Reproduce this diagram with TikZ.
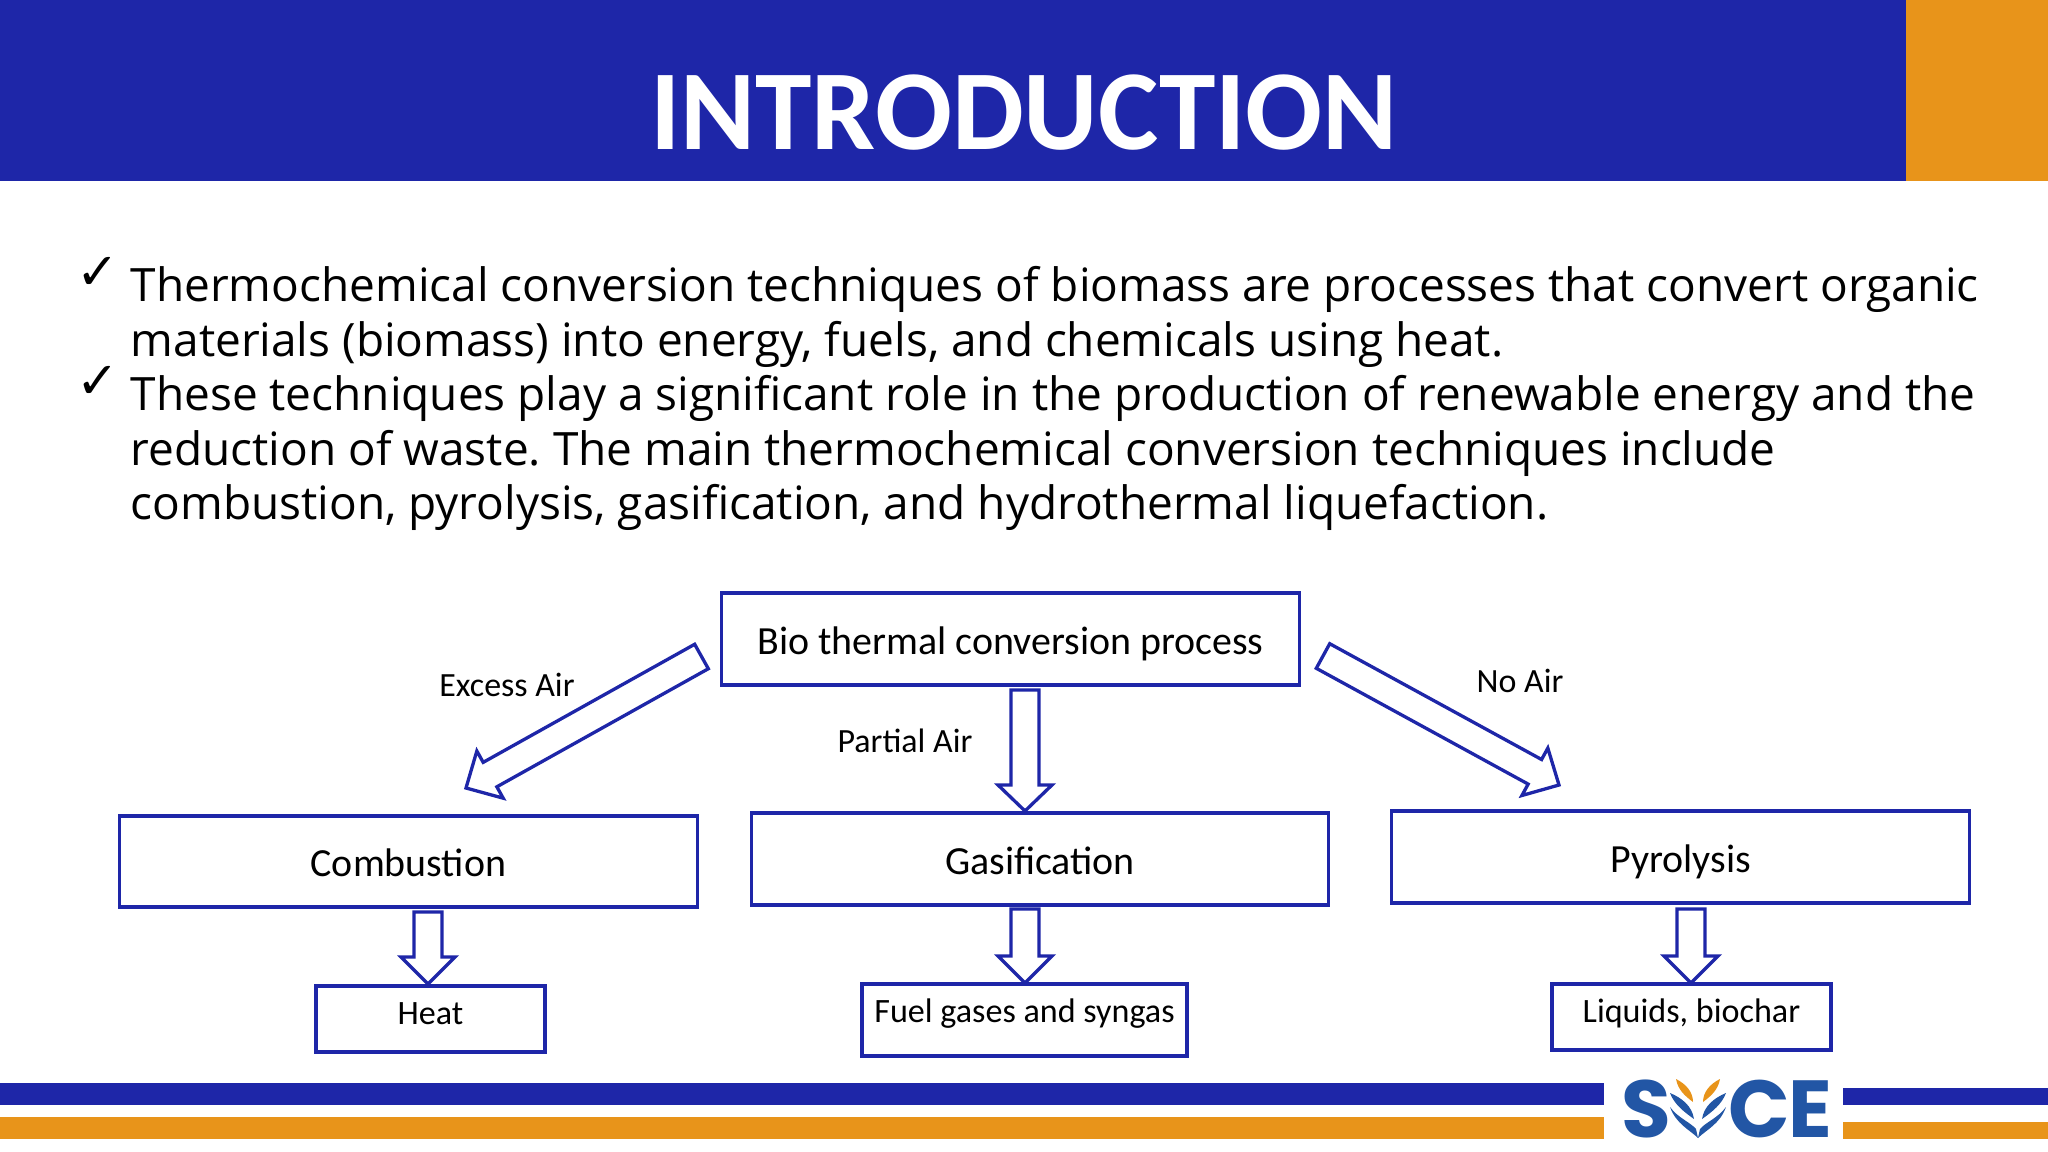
\documentclass[tikz,border=0pt]{standalone}
\usepackage{fontspec}
\setmainfont{Carlito}
\newfontfamily\bodyfont{Open Sans}
\newfontfamily\tickfont{DejaVu Sans}
\newfontfamily\logofont{Poppins}
\usetikzlibrary{calc,positioning}
\definecolor{barblue}{HTML}{1E26A8}
\definecolor{barorange}{HTML}{E8941A}
\definecolor{logoblue}{HTML}{2256A5}
\newcommand{\blockar}[3]{
  \coordinate (n) at ($(#2)!#3!(#1)$);
  \draw[hollow] ($(#1)!1.4mm!90:(#2)$) -- ($(n)!1.4mm!90:(#2)$) -- ($(n)!2.7mm!90:(#2)$) -- (#2)
    -- ($(n)!2.7mm!-90:(#2)$) -- ($(n)!1.4mm!-90:(#2)$) -- ($(#1)!1.4mm!-90:(#2)$) -- cycle;
}
\tikzset{
  bar/.style={fill=#1, draw=none},
  box/.style={draw=barblue, fill=white, line width=.33mm, inner sep=0pt, align=center,
              font=\fontsize{11.35}{13}\selectfont, text height=3.2mm, text depth=.2mm},
  smallbox/.style={box, font=\fontsize{9.7}{11}\selectfont, text height=2.4mm, text depth=1.4mm},
  hollow/.style={draw=barblue, fill=white, line width=.33mm, line join=miter},
  lbl/.style={font=\fontsize{9.65}{11}\selectfont, inner sep=0pt},
  para/.style={anchor=north west, inner sep=0pt, align=left,
               font=\bodyfont\frenchspacing\fontsize{13.07}{15.5}\selectfont},
  tick/.style={inner sep=0pt, font=\tickfont\fontsize{14.5}{15}\selectfont},
  logo/.style={inner sep=0pt, text=logoblue, font=\logofont\bfseries\fontsize{23}{24}\selectfont}
}
\begin{document}
\begin{tikzpicture}[x=0.01cm,y=-0.01cm]
  \useasboundingbox (0,0) rectangle (2048,1152);

  % header
  \fill[bar=barblue] (0,0) rectangle (1906,181);
  \fill[bar=barorange] (1906,0) rectangle (2048,181);
  \node[text=white, inner sep=0pt, font=\bfseries\fontsize{32.4}{36}\selectfont] (title) at (1024,113) {INTRODUCTION};

  % text
  \node[tick] (tick1) at (98,273) {✓};
  \node[tick] (tick2) at (98,382) {✓};
  \node[para] (para1) at (130,266) {Thermochemical conversion techniques of biomass are processes that convert organic\\materials (biomass) into energy, fuels, and chemicals using heat.};
  \node[para] (para2) at (130,375) {These techniques play a significant role in the production of renewable energy and the\\reduction of waste. The main thermochemical conversion techniques include\\combustion, pyrolysis, gasification, and hydrothermal liquefaction.};

  % boxes
  \node[box, minimum width=57.7mm, minimum height=9.2mm] (bio) at (1010.5,639) {Bio thermal conversion process};
  \node[box, minimum width=57.7mm, minimum height=9.1mm] (comb) at (408.5,861.5) {Combustion};
  \node[box, minimum width=57.7mm, minimum height=9.2mm] (gas) at (1040,859) {Gasification};
  \node[box, minimum width=57.7mm, minimum height=9.2mm] (pyro) at (1680.5,857) {Pyrolysis};
  \node[smallbox, minimum width=22.9mm, minimum height=6.6mm] (heat) at (430.5,1019) {Heat};
  \node[smallbox, minimum width=32.5mm, minimum height=7.2mm, text depth=2mm] (fuel) at (1024.5,1020) {Fuel gases and syngas};
  \node[smallbox, minimum width=27.9mm, minimum height=6.6mm] (liq) at (1691.5,1017) {Liquids, biochar};

  \node[lbl] (excess) at (507,685) {Excess Air};
  \node[lbl] (partial) at (905,741) {Partial Air};
  \node[lbl] (noair) at (1520,681) {No Air};

  % block arrows
  \coordinate (a1) at (701.5,656.5); \coordinate (a2) at (466,788);
  \coordinate (b1) at (1025,690);    \coordinate (b2) at (1025,811);
  \coordinate (c1) at (1323,656);    \coordinate (c2) at (1559,785);
  \coordinate (d1) at (428,912);     \coordinate (d2) at (428,984);
  \coordinate (e1) at (1025,909);    \coordinate (e2) at (1025,983);
  \coordinate (f1) at (1691,909);    \coordinate (f2) at (1691,983);
  \blockar{a1}{a2}{2.75mm}
  \blockar{b1}{b2}{2.6mm}
  \blockar{c1}{c2}{2.75mm}
  \blockar{d1}{d2}{2.7mm}
  \blockar{e1}{e2}{2.7mm}
  \blockar{f1}{f2}{2.7mm}

  % footer
  \fill[bar=barblue] (0,1083) rectangle (1604,1105);
  \fill[bar=barorange] (0,1117) rectangle (1604,1139);
  \fill[bar=barblue] (1843,1088) rectangle (2048,1105);
  \fill[bar=barorange] (1843,1122) rectangle (2048,1139);

  % logo
  \foreach \sx in {1,-1} {
    \begin{scope}[shift={(1698,0)}, xscale=\sx]
      \fill[barorange] (-22,1079) .. controls (-12,1084) and (-5,1092) .. (-5,1102) .. controls (-13,1096) and (-20,1090) .. cycle;
      \fill[logoblue] (-28,1093) .. controls (-16,1098) and (-6,1106) .. (-4,1119) .. controls (-14,1112) and (-24,1104) .. cycle;
      \fill[logoblue] (-28,1107) .. controls (-20,1118) and (-8,1122) .. (-2,1129) -- (0,1138) .. controls (-8,1130) and (-22,1124) .. cycle;
    \end{scope}
  }
  \node[logo] (logos) at (1646,1109) {S};
  \node[logo] (logoc) at (1759,1109) {C};
  \node[logo] (logoe) at (1810,1109) {E};
\end{tikzpicture}
\end{document}
